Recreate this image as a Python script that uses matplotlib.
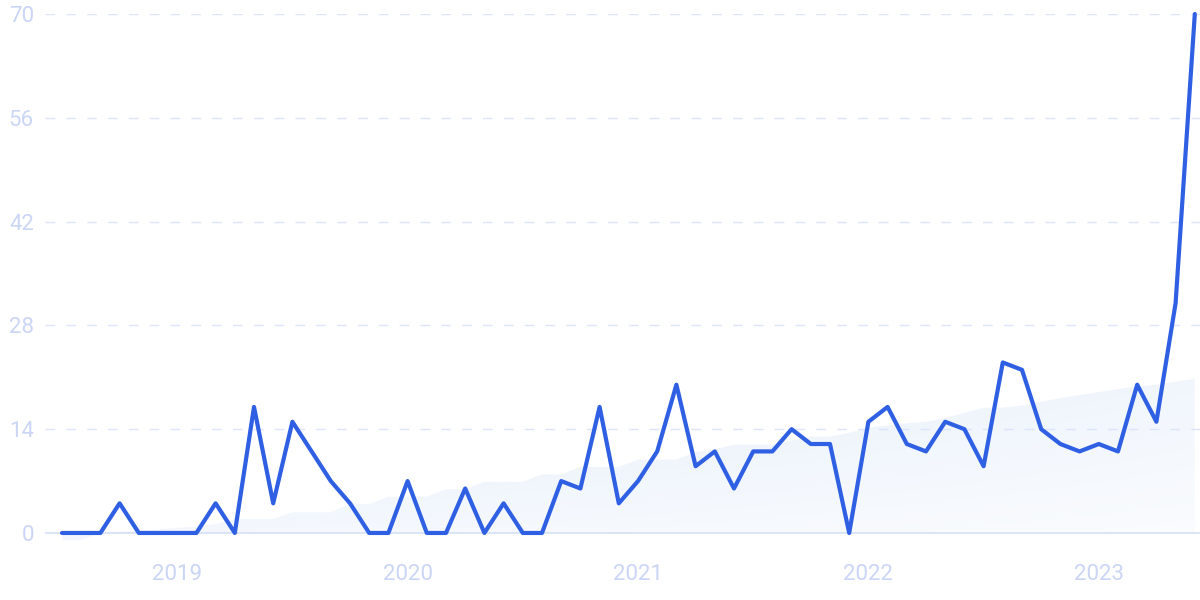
import matplotlib.pyplot as plt
import numpy as np
from matplotlib.patches import Polygon

# monthly values, Jul 2018 .. Jun 2023
values = [0, 0, 0, 4, 0, 0, 0, 0, 4, 0,
          17, 4, 15, 11, 7, 4, 0, 0, 7, 0,
          0, 6, 0, 4, 0, 0, 7, 6, 17, 4,
          7, 11, 20, 9, 11, 6, 11, 11, 14, 12,
          12, 0, 15, 17, 12, 11, 15, 14, 9, 23,
          22, 14, 12, 11, 12, 11, 20, 15, 31, 70]

# smoothed trend (shaded area)
trend = [-1, -1, 0, 0.2, 0.3, 0.5, 0.7, 0.9, 1.2, 1.9,
         1.9, 1.9, 2.8, 2.8, 2.8, 3.9, 3.9, 4.9, 4.9, 4.9,
         5.9, 5.9, 6.9, 6.9, 6.9, 7.9, 7.9, 8.9, 8.9, 8.9,
         9.9, 9.9, 9.9, 10.9, 11.3, 11.9, 11.9, 11.9, 12.5, 13,
         13, 13.5, 14.2, 14.5, 14.8, 15, 15.5, 16.2, 16.9, 16.9,
         17.2, 17.7, 18.2, 18.6, 19, 19.4, 19.8, 20, 20.4, 20.8]

year_labels = ['2019', '2020', '2021', '2022', '2023']
year_pos = [6, 18, 30, 42, 54]
y_ticks = [0, 14, 28, 42, 56, 70]

line_color = '#2f5fe3'
text_color = '#cbd5f5'
grid_color = '#dde5fa'

plt.rcParams['font.family'] = ['Roboto', 'DejaVu Sans']

fig = plt.figure(figsize=(12, 6), dpi=100)
ax = fig.add_axes([45 / 1200, 52.2 / 600, 1155 / 1200, (586 - 52.2) / 600])

x = np.arange(len(values))
ax.set_xlim(-17 / 19.2, (1200 - 62) / 19.2)
ax.set_ylim(-2, 70)

# gradient fill for the trend area
poly_x = np.concatenate([x, x[::-1]])
poly_y = np.concatenate([trend, np.zeros(len(x))])
patch = Polygon(np.column_stack([poly_x, poly_y]), closed=True,
                facecolor='none', edgecolor='none')
ax.add_patch(patch)
gx = np.linspace(0, 1, 300)
gy = np.linspace(0, 1, 100)
GX, GY = np.meshgrid(gx, gy)
alpha = 0.8 * (1 - 0.55 * GX) * (0.35 + 0.65 * GY)
rgba = np.zeros((100, 300, 4))
rgba[..., 0] = 0.85
rgba[..., 1] = 0.90
rgba[..., 2] = 0.98
rgba[..., 3] = alpha
im = ax.imshow(rgba, extent=[0, len(x) - 1, -1.2, 21], origin='lower',
               aspect='auto', zorder=1)
im.set_clip_path(patch)

# grid
for t in y_ticks[1:]:
    ax.axhline(t, color=grid_color, lw=1, ls=(0, (7, 8)), zorder=0)
ax.axhline(0, color='#d6dff8', lw=1.2, zorder=1.5)

ax.plot(x, values, color=line_color, lw=3, zorder=3, clip_on=False,
        solid_joinstyle='round', solid_capstyle='round')

for s in ax.spines.values():
    s.set_visible(False)
ax.set_yticks(y_ticks)
ax.set_yticklabels([str(t) for t in y_ticks])
ax.set_xticks(year_pos)
ax.set_xticklabels(year_labels)
ax.tick_params(axis='both', length=0, colors=text_color, labelsize=16)
ax.tick_params(axis='y', pad=8)
ax.tick_params(axis='x', pad=12)

fig.savefig('out.png', dpi=100)
